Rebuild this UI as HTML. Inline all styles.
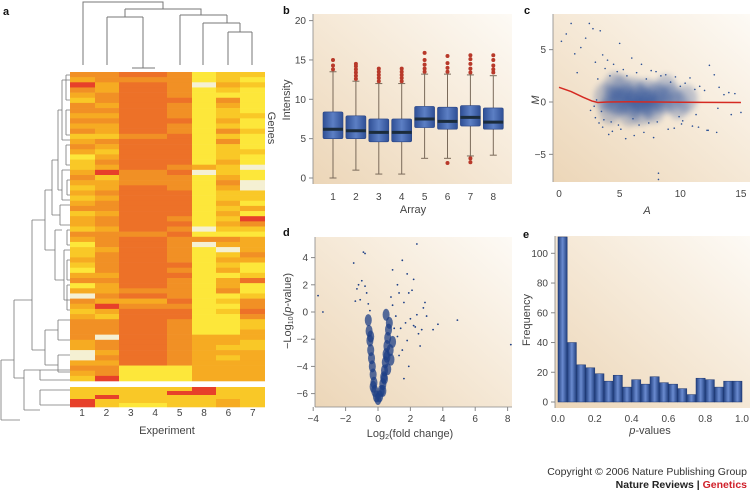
<!DOCTYPE html>
<html><head><meta charset="utf-8"><style>
html,body{margin:0;padding:0;background:#fff;width:750px;height:492px;overflow:hidden}
svg{display:block;font-family:"Liberation Sans","DejaVu Sans",sans-serif}
.t{font-size:10px;fill:#444}
.ttl{font-size:11px;fill:#444}
.pl{font-size:11px;font-weight:bold;fill:#111}
</style></head><body>
<svg id="fig" width="750" height="492" viewBox="0 0 750 492" xmlns="http://www.w3.org/2000/svg">
<defs>
<linearGradient id="bg" x1="0" y1="1" x2="1" y2="0">
<stop offset="0" stop-color="#ecd6b8"/><stop offset="0.55" stop-color="#f6ead9"/><stop offset="1" stop-color="#fdfaf5"/></linearGradient>
<linearGradient id="boxg" x1="0" y1="0" x2="1" y2="0">
<stop offset="0" stop-color="#2f4f95"/><stop offset="0.5" stop-color="#5c7fc4"/><stop offset="1" stop-color="#2f4f95"/></linearGradient>
<linearGradient id="barg" x1="0" y1="0" x2="1" y2="0">
<stop offset="0" stop-color="#22407f"/><stop offset="0.5" stop-color="#6a8bd0"/><stop offset="1" stop-color="#22407f"/></linearGradient>
<filter id="blur" x="-50%" y="-50%" width="200%" height="200%"><feGaussianBlur stdDeviation="3"/></filter>
</defs>

<text class="pl" x="3" y="15">a</text>
<text class="pl" x="283" y="14">b</text>
<text class="pl" x="524" y="14">c</text>
<text class="pl" x="283" y="236">d</text>
<text class="pl" x="523" y="238">e</text>

<g stroke="#777" stroke-width="1" fill="none">
<path d="M83 65V2H163V9"/>
<path d="M125 9H201V15"/>
<path d="M125 9V17"/>
<path d="M107 17H143M107 17V65M143 17V68M132 68H155"/>
<path d="M180 15H227M180 15V65M227 15V23"/>
<path d="M203 23H240M203 23V65M240 23V32"/>
<path d="M228 32H252M228 32V65M252 32V65"/>
</g>
<g stroke="#777" stroke-width="0.8" fill="none">
<path d="M1 360V420M1 360H14M1 420H20"/>
<path d="M14 300V378M14 300H32M14 378H24"/>
<path d="M32 220V350M32 220H45M32 350H45"/>
<path d="M45 190V250M45 190H52M45 250H55"/>
<path d="M52 160V215M52 160H58M52 215H60"/>
<path d="M58 110V190M58 110H62M58 190H62"/>
<path d="M62 80V140M62 80H70M62 140H70"/>
<path d="M62 170V200M62 170H70M62 200H70"/>
<path d="M55 230V280M55 230H62M55 280H64"/>
<path d="M64 250V300M64 250H70M64 300H70"/>
<path d="M45 330V365M45 330H58M45 365H58"/>
<path d="M58 320V340M58 320H70M58 340H70"/>
<path d="M58 355V372M58 355H70M58 372H70"/>
<path d="M24 370V410M24 370H40M24 410H40"/>
<path d="M40 390V405M40 390H70M40 405H70"/>
<path d="M40 370V380M40 370H70M40 380H70"/>
<path d="M60 205V225M60 205H70M60 225H70"/>
<path d="M66 75V100M66 75H70M66 100H70M66 110V135M66 110H70M66 135H70M66 145V165M66 145H70M66 165H70M67 180V195M67 180H70M67 195H70M67 260V280M67 260H70M67 280H70M67 285V310M67 285H70M67 310H70M67 230V245M67 230H70M67 245H70"/>
</g>
<g id="heat"></g>
<g id="heatlabels"></g>
<text class="ttl" x="167" y="434" text-anchor="middle">Experiment</text>
<text class="ttl" transform="translate(268,128) rotate(90)" text-anchor="middle">Genes</text>

<rect x="313" y="14" width="199" height="170" fill="url(#bg)"/>
<g id="pb"></g>
<text class="ttl" x="413" y="213" text-anchor="middle">Array</text>
<text class="ttl" transform="translate(290,100) rotate(-90)" text-anchor="middle">Intensity</text>

<rect x="553" y="14" width="197" height="168" fill="url(#bg)"/>
<g id="pc"></g>
<text class="ttl" x="647" y="214" text-anchor="middle" font-style="italic">A</text>
<text class="ttl" transform="translate(539,100) rotate(-90)" text-anchor="middle" font-style="italic">M</text>

<rect x="315" y="237" width="197" height="170" fill="url(#bg)"/>
<g id="pd"></g>
<text class="ttl" x="410" y="437" text-anchor="middle">Log<tspan font-size="7" dy="2">2</tspan><tspan dy="-2">(fold change)</tspan></text>
<text class="ttl" transform="translate(291,311) rotate(-90)" text-anchor="middle">−Log<tspan font-size="7" dy="2">10</tspan><tspan dy="-2">(</tspan><tspan font-style="italic">p</tspan>-value)</text>

<rect x="555" y="236" width="195" height="172" fill="url(#bg)"/>
<g id="pe"></g>
<text class="ttl" x="650" y="434" text-anchor="middle"><tspan font-style="italic">p</tspan>-values</text>
<text class="ttl" transform="translate(530,320) rotate(-90)" text-anchor="middle">Frequency</text>

<text x="747" y="475" text-anchor="end" font-size="10.5" fill="#333">Copyright © 2006 Nature Publishing Group</text>
<text x="747" y="488" text-anchor="end" font-size="10.5" font-weight="bold" fill="#222">Nature Reviews | <tspan fill="#d0202a">Genetics</tspan></text>
</svg>
<script>
const NS='http://www.w3.org/2000/svg';
const heatPalette=['#f5f0d3','#fde73a','#f9c827','#f6ab22','#f19025','#ed7128','#e7402a'];
const heatColumns=['1','2','3','4','5','8','6','7'];
const heatRowsMain=["4454122","3444121","6354032","4354121","3454111","2455141","4354131","4454121","3354122","4455131","3354121","4354142","2245121","3455141","4355121","3255122","1355121","2455131","2354320","3645021","4244131","3344140","2354130","3455122","2355122","3455131","4455123","2355131","3454126","3455134","2354022","4445111","3454443","1454033","2354103","2454124","3454133","2455121","1454131","3355112","4454135","1354131","3344141","0454112","4335124","3644114","2355125","3255114","4454112","4454112","4454113","4054333","3454332","3454322","0354333","0454323","3354333","4411333","3411333","2611333"];
const heatRowsLower=["2222622","2226622","2622222","6222232","6212232"];
const arrays=[1,2,3,4,5,6,7,8];
const whiskLo=[0,1,0.5,0.5,2.5,2.5,2.8,2.9];
const q1=[5,5,4.6,4.6,6.4,6.2,6.6,6.2];
const med=[6.2,6,5.8,5.8,7.5,7.2,7.7,7.1];
const q3=[8.4,7.9,7.5,7.5,9.1,9,9.2,8.9];
const whiskHi=[13.5,12.3,12,12,13.2,13.2,13.1,13];
const outHi=[[13.8,14.3,15],[12.6,13,13.4,13.8,14.2,14.5],[12.3,12.7,13.1,13.5,13.9],[12.3,12.7,13.1,13.5,13.9],[13.5,13.9,14.4,15,15.9],[13.5,14,14.6,15.5],[13.4,13.9,14.5,15.1,15.6],[13.4,13.8,14.3,15,15.6]];
const outLo=[[],[],[],[],[],[1.9],[2,2.5],[]];
const bTicks=[0,5,10,15,20];
const maLoessA=[0,1,2,2.7,3.2,4,6,8,10,12,15];
const maLoessM=[1.4,1.0,0.45,0.1,-0.05,0,0.02,0,-0.02,-0.03,-0.05];
const maCoreA=[4.5,5,5.5,6,6.5,7,7.5,8,8.5,5.2,6.2,7.2,4.2,9.2,5.8,6.8,7.8,3.8,4.6,9.8,10.5,8.8];
const maCoreM=[0.2,0,0.3,-0.2,0.4,0.1,-0.1,0.6,0.2,1.2,1,0.9,-0.8,0.4,-1,-0.9,-0.7,0.5,1.5,-0.3,0.3,1.3];
const maPtsA=[0.2,0.6,1,1.3,1.5,1.8,2.2,2.5,2.8,3,3.2,3.4,3.6,3.8,4,4.2,4.5,4.8,5,5.3,5.6,6,6.4,6.8,7.2,7.6,8,8.4,8.8,9.2,9.6,10,10.4,10.8,11.2,11.6,12,12.4,12.8,13.2,13.6,14,14.5,15,2.6,3,3.3,3.6,4.1,4.4,5.5,6.2,7,7.8,8.2,9,9.5,10.2,11,11.5,12.2,13,3.1,3.5,4.3,5.1,6.6,8.1,9.9,11.3,2.9,3.7,4.9,8.2,10.1,12.3,13.1,14.2,6.1,7.4];
const maPtsM=[5.8,6.5,7.5,4.6,2.8,5.2,6.1,7.5,7,3.8,2.2,6.8,4.5,3.2,4,2.5,3.6,2.9,5.6,3.1,2.5,4.2,2.8,3.6,2.2,3,2.9,2.5,2.6,1.9,2.4,1.5,1.8,2.3,1.2,1.5,1.1,3.5,2.6,1.4,0.7,0.9,0.8,-1,-0.8,-1.5,-2,-2.4,-3.1,-2.8,-3.5,-3.2,-2.9,-3.4,-7.4,-2.6,-2.5,-1.8,-2.3,-2.4,-2.7,-2.9,0.2,-0.9,-1.9,-2.6,-2.2,-1.9,-1.4,-1.2,-0.4,-1.7,-2.2,-6.8,-2.1,-2.7,-0.6,-1.2,-1.6,-2];
const maTicksX=[0,5,10,15];
const maTicksY=[-5,0,5];
const vCoreX=[0,-0.1,0.1,-0.2,0.2,-0.25,0.3,-0.3,0.35,-0.35,0.4,-0.4,0.45,-0.45,0.5,-0.5,0.55,-0.55,0.6,0.65,0.7,0.5,0.75,-0.6,0.8,0.3,-0.3,0.6,0.9,-0.45,0.4,0.55];
const vCoreY=[-6.4,-6.2,-6.2,-5.8,-5.8,-5.2,-5.3,-4.6,-4.8,-4,-4.3,-3.4,-3.7,-2.8,-3.1,-2.1,-2.5,-1.4,-1.9,-1.3,-0.8,-0.2,-2.8,-0.6,-3.5,-5.8,-5.5,-4.2,-2.2,-1.8,-4.9,-3.3];
const vPtsX=[-3.7,-3.4,-1.5,-1.3,-1.1,-0.9,-0.8,-1.2,-0.7,-0.6,-0.5,-1.4,-1,-0.8,0.9,1.2,1.5,2.2,2.4,1.8,2.1,2.9,3,2.5,2.6,3.7,4.9,8.2,1.3,1.6,1.9,2,2.3,1.1,1.4,1.7,1.2,2.7,3.4,2.8,1.5,1,0.9,1.3,1.8,2.2,0.8,1.6,2.4,1.9];
const vPtsY=[1.2,0,3.6,1.7,0.9,4.4,4.3,2,1.4,0.6,0.1,0.8,2.3,1.9,3.1,2,3.8,2.4,5,2.8,1.6,0.7,-0.3,-1.6,-2.5,-0.9,-0.6,-2.4,1.4,0.7,1.4,-0.5,-1.1,-0.3,-1.2,-0.8,-1.8,-1.3,-1.3,0.3,-2.8,-1.2,0.5,-3.2,-2.1,-1,1.1,-4.9,-0.2,-4];
const vTicksX=[-4,-2,0,2,4,6,8];
const vTicksY=[-6,-4,-2,0,2,4];
const binStarts=[0,0.05,0.1,0.15,0.2,0.25,0.3,0.35,0.4,0.45,0.5,0.55,0.6,0.65,0.7,0.75,0.8,0.85,0.9,0.95];
const binCounts=[111,40,25,23,19,14,18,10,15,12,17,13,12,9,5,16,15,10,14,14];
const hTicksX=[0,0.2,0.4,0.6,0.8,1.0];
const hTicksY=[0,20,40,60,80,100];

function mk(tag,attrs,parent){const e=document.createElementNS(NS,tag);for(const k in attrs)e.setAttribute(k,attrs[k]);parent.appendChild(e);return e;}

(function(){
  const g=document.getElementById('heat');
  const colEdges=[70,95,119,167,192,216,240,265];
  const mainTop=72, mainH=309/heatRowsMain.length;
  heatRowsMain.forEach((row,ri)=>{
    for(let c=0;c<7;c++){
      const r=mk('rect',{x:colEdges[c],y:mainTop+ri*mainH,width:colEdges[c+1]-colEdges[c],height:mainH+0.3,fill:heatPalette[+row[c]]},g);
      
      
    }
  });
  const lowTop=387, lowH=20/heatRowsLower.length;
  heatRowsLower.forEach((row,ri)=>{
    for(let c=0;c<7;c++){
      const r=mk('rect',{x:colEdges[c],y:lowTop+ri*lowH,width:colEdges[c+1]-colEdges[c],height:lowH+0.3,fill:heatPalette[+row[c]]},g);
      
      
    }
  });
  const lg=document.getElementById('heatlabels');
  heatColumns.forEach((lab,i)=>{
    const t=mk('text',{x:82+i*24.4,y:416,'text-anchor':'middle','class':'t'},lg);
    t.textContent=lab;
    
    
  });
})();

(function(){
  const g=document.getElementById('pb');
  const X=a=>333+(a-1)*22.9, Y=v=>178-7.87*v;
  mk('line',{x1:313,y1:14,x2:313,y2:184,stroke:'#888','stroke-width':0.8},g);
  bTicks.forEach(t=>{
    mk('line',{x1:309,y1:Y(t),x2:313,y2:Y(t),stroke:'#888'},g);
    const tx=mk('text',{x:306,y:Y(t)+3.5,'text-anchor':'end','class':'t'},g);tx.textContent=t;
    
    
  });
  arrays.forEach((a,i)=>{
    const x=X(a);
    const tx=mk('text',{x:x,y:200,'text-anchor':'middle','class':'t'},g);tx.textContent=a;
    
    
    mk('line',{x1:x,y1:Y(whiskLo[i]),x2:x,y2:Y(whiskHi[i]),stroke:'#7a6a5a','stroke-width':1},g);
    mk('line',{x1:x-3.5,y1:Y(whiskLo[i]),x2:x+3.5,y2:Y(whiskLo[i]),stroke:'#7a6a5a'},g);
    mk('line',{x1:x-3.5,y1:Y(whiskHi[i]),x2:x+3.5,y2:Y(whiskHi[i]),stroke:'#7a6a5a'},g);
    const b=mk('rect',{x:x-10,y:Y(q3[i]),width:20,height:Y(q1[i])-Y(q3[i]),fill:'url(#boxg)',stroke:'#2a4585','stroke-width':0.6,rx:1.5},g);
    
    
    mk('line',{x1:x-10,y1:Y(med[i]),x2:x+10,y2:Y(med[i]),stroke:'#1b2c3c','stroke-width':3},g);
    outHi[i].concat(outLo[i]).forEach(v=>{
      const o=mk('circle',{cx:x,cy:Y(v),r:2,fill:'#b8392a'},g);
      
      
    });
  });
})();

(function(){
  const g=document.getElementById('pc');
  const X=a=>559+12.13*a, Y=m=>102-10.47*m;
  mk('line',{x1:553,y1:14,x2:553,y2:182,stroke:'#888','stroke-width':0.8},g);
  maTicksY.forEach(t=>{
    mk('line',{x1:549,y1:Y(t),x2:553,y2:Y(t),stroke:'#888'},g);
    const tx=mk('text',{x:546,y:Y(t)+3.5,'text-anchor':'end','class':'t'},g);tx.textContent=t<0?'−'+(-t):t;
    
    
  });
  maTicksX.forEach(t=>{
    const tx=mk('text',{x:X(t),y:197,'text-anchor':'middle','class':'t'},g);tx.textContent=t;
    
    
  });
  maCoreA.forEach((a,i)=>{
    const c=mk('ellipse',{cx:X(a),cy:Y(maCoreM[i]),rx:11,ry:14,fill:'#2a4f98',opacity:0.28,filter:'url(#blur)'},g);
    
    
  });
  maPtsA.forEach((a,i)=>{
    const c=mk('circle',{cx:X(a),cy:Y(maPtsM[i]),r:0.8,fill:'#2a4f94'},g);
    
    
  });
  const p=mk('polyline',{points:maLoessA.map((a,i)=>X(a)+','+Y(maLoessM[i])).join(' '),fill:'none',stroke:'#d52a22','stroke-width':1.5},g);
  
  
})();

(function(){
  const g=document.getElementById('pd');
  const X=v=>378+16.2*v, Y=v=>312-13.6*v;
  mk('line',{x1:315,y1:237,x2:315,y2:407,stroke:'#888','stroke-width':0.8},g);
  mk('line',{x1:315,y1:407,x2:512,y2:407,stroke:'#888','stroke-width':0.8},g);
  vTicksY.forEach(t=>{
    mk('line',{x1:311,y1:Y(t),x2:315,y2:Y(t),stroke:'#888'},g);
    const tx=mk('text',{x:308,y:Y(t)+3.5,'text-anchor':'end','class':'t'},g);tx.textContent=t<0?'−'+(-t):t;
    
    
  });
  vTicksX.forEach(t=>{
    mk('line',{x1:X(t),y1:407,x2:X(t),y2:411,stroke:'#888'},g);
    const tx=mk('text',{x:X(t),y:422,'text-anchor':'middle','class':'t'},g);tx.textContent=t<0?'−'+(-t):t;
    
    
  });
  vCoreX.forEach((v,i)=>{
    const c=mk('ellipse',{cx:X(v),cy:Y(vCoreY[i]),rx:3.5,ry:6,fill:'#1d3f86',opacity:0.75},g);
    
    
  });
  vPtsX.forEach((v,i)=>{
    const c=mk('circle',{cx:X(v),cy:Y(vPtsY[i]),r:0.9,fill:'#1d3f86'},g);
    
    
  });
})();

(function(){
  const g=document.getElementById('pe');
  const X=v=>558+184*v, Y=v=>402-1.487*v;
  mk('line',{x1:555,y1:236,x2:555,y2:408,stroke:'#888','stroke-width':0.8},g);
  hTicksY.forEach(t=>{
    mk('line',{x1:551,y1:Y(t),x2:555,y2:Y(t),stroke:'#888'},g);
    const tx=mk('text',{x:548,y:Y(t)+3.5,'text-anchor':'end','class':'t'},g);tx.textContent=t;
    
    
  });
  hTicksX.forEach(t=>{
    const tx=mk('text',{x:X(t),y:422,'text-anchor':'middle','class':'t'},g);tx.textContent=t.toFixed(1);
    
    
  });
  binStarts.forEach((b,i)=>{
    const r=mk('rect',{x:X(b),y:Y(binCounts[i]),width:X(b+0.05)-X(b),height:Y(0)-Y(binCounts[i]),fill:'url(#barg)',stroke:'#1c3670','stroke-width':0.5},g);
    
    
  });
})();
</script>
</body></html>
